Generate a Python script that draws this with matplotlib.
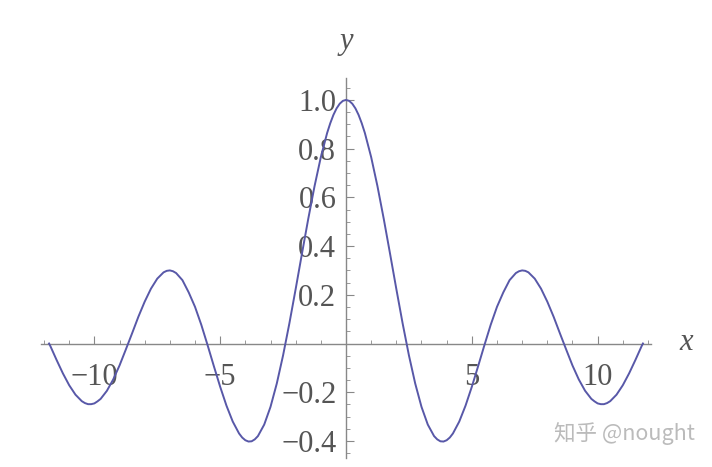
import matplotlib
matplotlib.use("Agg")
import matplotlib.pyplot as plt
from matplotlib.ticker import MultipleLocator, FixedLocator

# curve samples (right half; the plot is symmetric)
x_half = [0.0, 0.125, 0.25, 0.375, 0.5, 0.625, 0.75, 1.0, 1.25, 1.5, 1.75,
          2.0, 2.25, 2.5, 2.75, 3.0, 3.25, 3.5, 3.625, 3.75, 3.875, 4.0,
          4.125, 4.25, 4.5, 4.75, 5.0, 5.25, 5.5, 5.75, 6.0, 6.25, 6.5, 6.75,
          6.875, 7.0, 7.125, 7.25, 7.5, 7.75, 8.0, 8.25, 8.5, 8.75, 9.0,
          9.25, 9.5, 9.75, 9.875, 10.0, 10.125, 10.25, 10.375, 10.5, 10.75,
          11.0, 11.25, 11.5, 11.75, 11.8]
y_half = [1.0, 0.9961, 0.9844, 0.9652, 0.9385, 0.9044, 0.8642, 0.7652,
          0.6459, 0.5118, 0.3690, 0.2239, 0.0827, -0.0484, -0.1641,
          -0.2601, -0.3328, -0.3801, -0.3935, -0.4014, -0.4024, -0.3971,
          -0.3860, -0.3692, -0.3205, -0.2551, -0.1776, -0.0933, -0.0068,
          0.0768, 0.1506, 0.2097, 0.2601, 0.2892, 0.2967, 0.3001, 0.2983,
          0.2921, 0.2663, 0.2252, 0.1717, 0.1100, 0.0419, -0.0248, -0.0903,
          -0.1474, -0.1939, -0.2273, -0.2375, -0.2459, -0.2490, -0.2490,
          -0.2445, -0.2366, -0.2101, -0.1712, -0.1226, -0.0677, -0.0101, 0.0]

xs = [-v for v in x_half[::-1]] + x_half[1:]
ys = y_half[::-1] + y_half[1:]

x_ticks = [-10, -5, 5, 10]
y_ticks = [-0.4, -0.2, 0.2, 0.4, 0.6, 0.8, 1.0]

fig = plt.figure(figsize=(7.12, 4.67), dpi=100)
ax = fig.add_axes([41 / 712, 9 / 467, 610 / 712, 380 / 467])
ax.plot(xs, ys, color="#5858a8", linewidth=1.4, zorder=3)

ax.set_xlim(-12.12, 12.12)
ax.set_ylim(-0.47, 1.09)

for s in ["top", "right"]:
    ax.spines[s].set_visible(False)
for s in ["left", "bottom"]:
    ax.spines[s].set_position("zero")
    ax.spines[s].set_color("#888888")
    ax.spines[s].set_linewidth(1.0)

ax.xaxis.set_major_locator(FixedLocator(x_ticks))
ax.xaxis.set_minor_locator(MultipleLocator(1))
ax.yaxis.set_major_locator(FixedLocator(y_ticks))
ax.yaxis.set_minor_locator(MultipleLocator(0.05))
ax.set_xticklabels([f"{t}".replace("-", "\u2212") for t in x_ticks])
ax.set_yticklabels([f"{t:.1f}".replace("-", "\u2212") for t in y_ticks])

ax.tick_params(which="both", direction="in", color="#888888",
               labelcolor="#555555")
ax.tick_params(which="major", length=6, width=0.8)
ax.tick_params(axis="x", which="major", pad=14)
ax.tick_params(axis="y", which="major", pad=7)
ax.tick_params(which="minor", length=3, width=0.6)
for lab in ax.get_xticklabels() + ax.get_yticklabels():
    lab.set_fontfamily("Liberation Serif")
    lab.set_fontsize(22)

fig.text(346 / 712, 1 - 42 / 467, "y", ha="center", va="center",
         fontsize=22, style="italic", color="#555555", family="Liberation Serif")
fig.text(686 / 712, 1 - 343 / 467, "x", ha="center", va="center",
         fontsize=22, style="italic", color="#555555", family="Liberation Serif")

fig.text(624 / 712, 1 - 434 / 467, "知乎 @nought", ha="center", va="center",
         fontsize=15.5, color="#bbbbbb",
         family=["Noto Sans CJK SC", "DejaVu Sans"])

fig.savefig("out.png", dpi=100)
